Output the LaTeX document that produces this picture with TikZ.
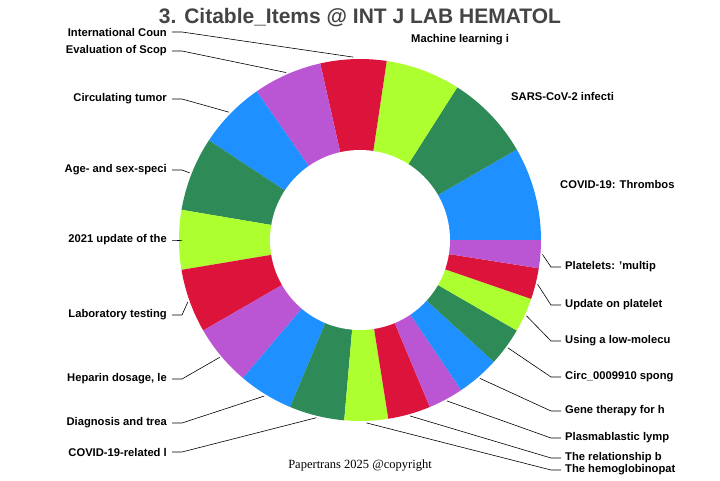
\documentclass[tikz,border=0pt]{standalone}
\usepackage{fontspec}
\setmainfont{Liberation Sans}
\newfontfamily\footfont{Liberation Serif}
\usetikzlibrary{positioning, calc}

\definecolor{cBlue}{RGB}{30,144,255}
\definecolor{cGreen}{RGB}{46,139,87}
\definecolor{cLime}{RGB}{173,255,47}
\definecolor{cRed}{RGB}{220,20,60}
\definecolor{cPurple}{RGB}{186,85,211}
\definecolor{cTitle}{RGB}{68,68,68}

\tikzset{
  lbl/.style={font=\fontsize{11.2}{13}\selectfont\bfseries, inner sep=0pt},
  lblL/.style={lbl, anchor=east},
  lblR/.style={lbl, anchor=west},
  lead/.style={black, line width=0.6pt}
}

\begin{document}
\begin{tikzpicture}[x=1pt, y=1pt]
\useasboundingbox (0,0) rectangle (720,480);
\coordinate (ctr) at (360,240);

% Wedges: start angle / end angle / colour
\foreach \a/\b/\c in {0/30/cBlue, 30/57.5/cGreen, 57.5/81.5/cLime, 81.5/102.7/cRed,
  102.7/124.8/cPurple, 124.8/146.6/cBlue, 146.6/170.4/cGreen, 170.4/189.5/cLime,
  189.5/210/cRed, 210/229.7/cPurple, 229.7/247.3/cBlue, 247.3/265/cGreen,
  265/279/cLime, 279/292.7/cRed, 292.7/304/cPurple, 304/317.7/cBlue,
  317.7/330/cGreen, 330/341/cLime, 341/351/cRed, 351/360/cPurple}
  \fill[\c] (ctr) -- ++(\a:181) arc[start angle=\a, end angle=\b, radius=181] -- cycle;
\fill[white] (ctr) circle[radius=90];

% Title and footer
\node[font=\fontsize{21}{24}\selectfont\bfseries, text=cTitle] (title) at (360,462) {3. Citable\_Items @ INT J LAB HEMATOL};
\node[font=\footfont\fontsize{12.5}{14}\selectfont] (foot) at (360,14) {Papertrans 2025 @copyright};

% Labels without leaders
\node[lblR] (mach) at (411,440) {Machine learning i};
\node[lblR] (sars) at (511,384) {SARS-CoV-2 infecti};
\node[lblR] (thromb) at (560,296) {COVID-19: Thrombos};

% Left labels: name / mid angle / y
\foreach \n/\m/\y/\t in {intl/92.1/448/International Coun, eval/113.8/429/Evaluation of Scop,
  circ/135.7/381/Circulating tumor, age/158.5/310/Age- and sex-speci,
  upd/180/240/2021 update of the, lab/199.8/165/Laboratory testing,
  hep/219.9/101/{Heparin dosage, le}, diag/238.5/57/Diagnosis and trea,
  covrel/256.2/28/COVID-19-related l} {
  \node[lblL] (\n) at (167,\y) {\t};
  \coordinate (\n e) at ($(ctr)+(\m:183)$);
  \draw[lead] (\n.east) ++(5,0) coordinate (\n s) -- ++(10,0) -- (\n e);
}

% Right labels
\foreach \n/\m/\y/\t in {plat/355.5/213/Platelets: \char"0027multip, updp/346/175/Update on platelet,
  lowm/335.5/139/Using a low-molecu, circz/323.9/103/Circ\_0009910 spong,
  gene/310.9/69/Gene therapy for h, plas/298.4/42/Plasmablastic lymp,
  rel/285.9/22/The relationship b, hemo/272/10/The hemoglobinopat} {
  \node[lblR] (\n) at (565,\y) {\t};
  \coordinate (\n e) at ($(ctr)+(\m:183)$);
  \draw[lead] (\n.west) ++(-4,0) -- ++(-10,0) -- (\n e);
}
\end{tikzpicture}
\end{document}
